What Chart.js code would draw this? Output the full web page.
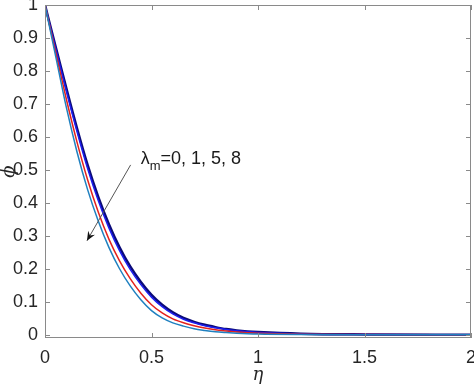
<!DOCTYPE html>
<html>
<head>
<meta charset="utf-8">
<script src="https://cdn.jsdelivr.net/npm/chart.js@4.4.0/dist/chart.umd.min.js"></script>
<style>
  html, body { margin: 0; padding: 0; background: #fff; }
  #wrap { width: 474px; height: 384px; }
</style>
</head>
<body>
<div id="wrap"><canvas id="phiChart"></canvas></div>
<script>
// eta grid + phi profiles
const eta      = [0, 0.05, 0.1, 0.15, 0.2, 0.25, 0.3, 0.35, 0.4, 0.45, 0.5, 0.55, 0.6, 0.65, 0.7, 0.75, 0.8, 0.85, 0.9, 0.95, 1.0, 1.2, 1.5, 2.0];
const phiLam0  = [1, 0.873, 0.748, 0.627, 0.515, 0.418, 0.335, 0.265, 0.207, 0.16, 0.121, 0.091, 0.068, 0.051, 0.039, 0.03, 0.023, 0.017, 0.013, 0.01, 0.008, 0.003, 0.0008, 0];
const phiLam1  = [1, 0.868, 0.74, 0.617, 0.504, 0.407, 0.324, 0.255, 0.198, 0.152, 0.114, 0.085, 0.063, 0.047, 0.036, 0.027, 0.021, 0.016, 0.012, 0.009, 0.007, 0.0025, 0.0006, 0];
const phiLam5  = [1, 0.857, 0.715, 0.585, 0.47, 0.372, 0.29, 0.224, 0.17, 0.126, 0.091, 0.066, 0.048, 0.036, 0.027, 0.02, 0.015, 0.011, 0.008, 0.006, 0.0045, 0.0015, 0.0003, 0];
const phiLam8  = [1, 0.845, 0.69, 0.555, 0.44, 0.345, 0.265, 0.2, 0.148, 0.106, 0.073, 0.051, 0.036, 0.026, 0.018, 0.013, 0.009, 0.0065, 0.0045, 0.003, 0.002, 0.0006, 0.0001, 0];

const xTickVals = [0, 0.5, 1, 1.5, 2];
const yTickVals = [0, 0.1, 0.2, 0.3, 0.4, 0.5, 0.6, 0.7, 0.8, 0.9, 1];

const font = 'Liberation Sans, Arial, Helvetica, sans-serif';

function pts(ys) {
  return eta.map((e, i) => ({ x: e, y: ys[i] }));
}

// box, inside ticks, arrow + lambda label
const framePlugin = {
  id: 'frame',
  afterDatasetsDraw(chart) {
    const { ctx, chartArea: a, scales: { x, y } } = chart;
    ctx.save();
    ctx.strokeStyle = '#8a8a8a';
    ctx.lineWidth = 1;
    ctx.strokeRect(a.left + 0.5, a.top + 0.5, a.right - a.left - 1, a.bottom - a.top - 1);
    ctx.beginPath();
    xTickVals.forEach(v => {
      const px = Math.round(x.getPixelForValue(v)) + 0.5;
      ctx.moveTo(px, a.bottom); ctx.lineTo(px, a.bottom - 5);
      ctx.moveTo(px, a.top); ctx.lineTo(px, a.top + 5);
    });
    yTickVals.forEach(v => {
      const py = Math.round(y.getPixelForValue(v)) + 0.5;
      ctx.moveTo(a.left, py); ctx.lineTo(a.left + 5, py);
      ctx.moveTo(a.right, py); ctx.lineTo(a.right - 5, py);
    });
    ctx.stroke();

    // arrow
    const x0 = x.getPixelForValue(0.402), y0 = y.getPixelForValue(0.515);
    const x1 = x.getPixelForValue(0.197), y1 = y.getPixelForValue(0.285);
    ctx.strokeStyle = '#555';
    ctx.beginPath();
    ctx.moveTo(x0, y0); ctx.lineTo(x1, y1);
    ctx.stroke();
    const ang = Math.atan2(y1 - y0, x1 - x0);
    const hl = 10, hw = 0.4;
    ctx.fillStyle = '#111';
    ctx.beginPath();
    ctx.moveTo(x1, y1);
    ctx.lineTo(x1 - hl * Math.cos(ang - hw), y1 - hl * Math.sin(ang - hw));
    ctx.lineTo(x1 - 0.6 * hl * Math.cos(ang), y1 - 0.6 * hl * Math.sin(ang));
    ctx.lineTo(x1 - hl * Math.cos(ang + hw), y1 - hl * Math.sin(ang + hw));
    ctx.closePath();
    ctx.fill();

    // label
    let tx = x.getPixelForValue(0.449);
    const ty = y.getPixelForValue(0.518);
    ctx.fillStyle = '#1a1a1a';
    ctx.textBaseline = 'alphabetic';
    ctx.textAlign = 'left';
    ctx.font = '18px ' + font;
    ctx.fillText('λ', tx, ty);
    tx += ctx.measureText('λ').width;
    ctx.font = '13px ' + font;
    ctx.fillText('m', tx, ty + 6);
    tx += ctx.measureText('m').width;
    ctx.font = '18px ' + font;
    ctx.fillText('=0, 1, 5, 8', tx, ty);
    ctx.restore();
  }
};

new Chart(document.getElementById('phiChart'), {
  type: 'line',
  data: {
    datasets: [
      { label: 'λm=8', data: pts(phiLam8), borderColor: '#1f80c0', borderWidth: 1.5 },
      { label: 'λm=5', data: pts(phiLam5), borderColor: '#e4221c', borderWidth: 1.5 },
      { label: 'λm=1', data: pts(phiLam1), borderColor: '#1c1cf0', borderWidth: 1.5 },
      { label: 'λm=0', data: pts(phiLam0), borderColor: '#0b0b78', borderWidth: 2.5 }
    ]
  },
  options: {
    responsive: true,
    maintainAspectRatio: false,
    animation: false,
    elements: {
      point: { radius: 0 },
      line: { cubicInterpolationMode: 'monotone', fill: false }
    },
    layout: { padding: { left: 0, right: 3, top: 5, bottom: 0 } },
    plugins: {
      legend: { display: false },
      tooltip: { enabled: false }
    },
    scales: {
      x: {
        type: 'linear',
        min: 0,
        max: 2,
        grid: { display: false, drawTicks: false },
        border: { display: false },
        afterBuildTicks: s => { s.ticks = xTickVals.map(v => ({ value: v })); },
        afterFit: s => { s.height = 46; s.paddingLeft = 0; s.paddingRight = 0; },
        ticks: {
          padding: 9,
          color: '#262626',
          font: { family: font, size: 18 },
          maxRotation: 0,
          callback: v => String(v)
        },
        title: {
          display: true,
          text: 'η',
          color: '#262626',
          font: { family: 'DejaVu Serif, serif', size: 18, style: 'italic', lineHeight: 1 },
          padding: { top: 0, bottom: 0 }
        }
      },
      y: {
        type: 'linear',
        min: -0.01,
        max: 1,
        grid: { display: false, drawTicks: false },
        border: { display: false },
        afterBuildTicks: s => { s.ticks = yTickVals.map(v => ({ value: v })); },
        afterFit: s => { s.width = 45; s.paddingTop = 0; s.paddingBottom = 0; },
        ticks: {
          padding: 7,
          color: '#262626',
          font: { family: font, size: 18 },
          callback: v => String(v)
        },
        title: {
          display: true,
          text: 'ϕ',
          color: '#262626',
          font: { family: 'DejaVu Serif, serif', size: 18, style: 'italic', lineHeight: 1 },
          padding: { top: 0, bottom: 0 }
        }
      }
    }
  },
  plugins: [framePlugin]
});
</script>
</body>
</html>
